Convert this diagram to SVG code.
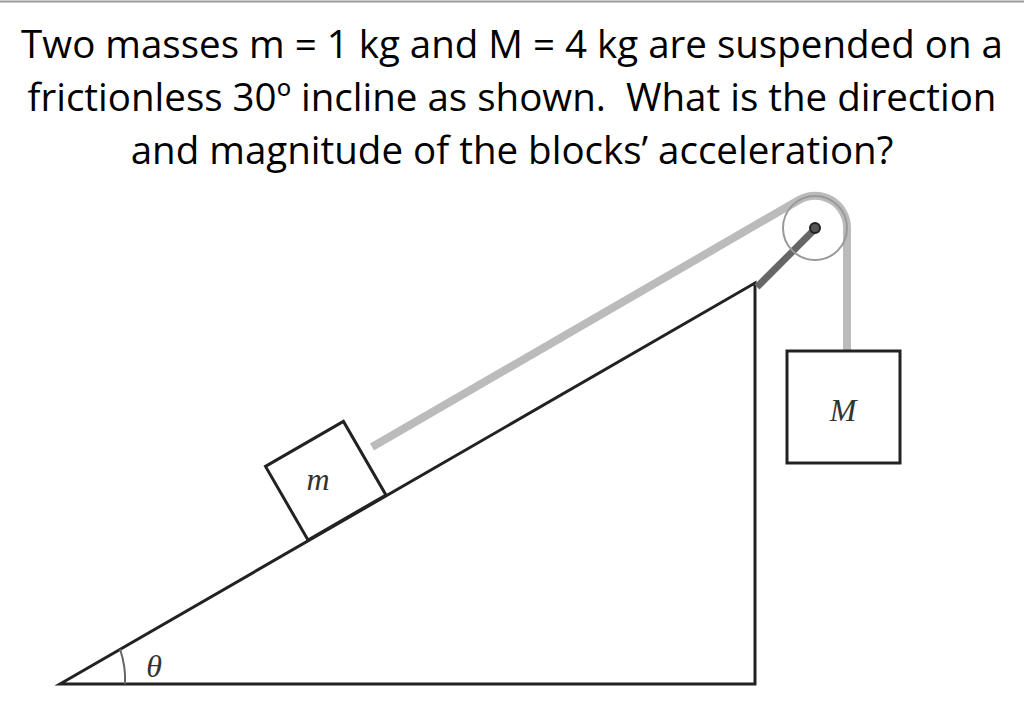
<svg xmlns="http://www.w3.org/2000/svg" width="1024" height="727" viewBox="0 0 1024 727">
<style>
.t{font-family:"Open Sans","Liberation Sans",sans-serif;font-size:38.5px;fill:#000;text-anchor:middle}
.s{fill:none;stroke:#222;stroke-width:3}
.lbl{font-family:"Liberation Serif",serif;font-style:italic;font-size:32px;fill:#333;text-anchor:middle}
.rope{fill:none;stroke:#bbb;stroke-width:8}
</style>
<rect width="1024" height="727" fill="#fff"/>
<line x1="0" y1="1.5" x2="1024" y2="1.5" stroke="#999" stroke-width="2"/>
<text class="t" x="512" y="58">Two masses m = 1 kg and M = 4 kg are suspended on a</text>
<text class="t" x="512" y="111">frictionless 30º incline as shown.&#160; What is the direction</text>
<text class="t" x="512" y="164">and magnitude of the blocks’ acceleration?</text>
<g id="incline">
<path class="s" d="M60,684 L755,283 L755,684 Z" stroke-width="3" stroke="#333"/>
<path d="M120,649 Q126,667 125,684" fill="none" stroke="#666" stroke-width="2"/>
<text class="lbl" x="154" y="677">θ</text>
</g>
<g id="connectors">
<path class="rope" d="M372,447 L799,200 A32,32 0 0 1 847,228 L847,350"/>
<line x1="757" y1="287" x2="815" y2="229" stroke="#666" stroke-width="7"/>
</g>
<g id="pulley">
<circle cx="815" cy="228" r="32" fill="none" stroke="#999" stroke-width="2"/>
<circle cx="815" cy="228" r="5" fill="#555" stroke="#222" stroke-width="2"/>
</g>
<g id="m">
<rect x="0" y="-85" width="90" height="85" transform="translate(308,540) rotate(-30)" class="s" fill="#fff"/>
<text class="lbl" x="318" y="490" font-size="28">m</text>
</g>
<g id="M">
<rect x="787" y="351" width="113" height="112" class="s" fill="#fff"/>
<text class="lbl" x="843" y="421">M</text>
</g>
</svg>
